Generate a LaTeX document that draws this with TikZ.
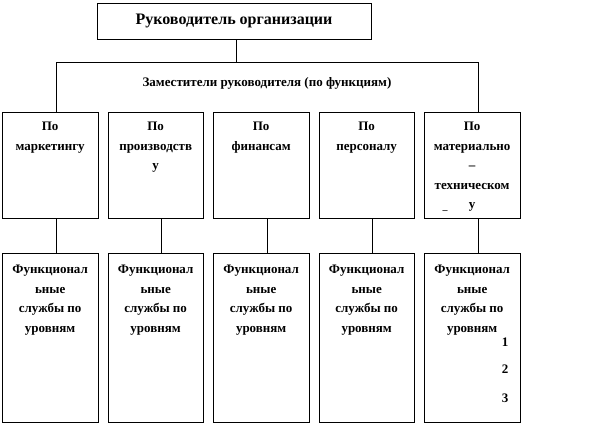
\documentclass[tikz,border=0pt]{standalone}
\usepackage{fontspec}
\setmainfont{Liberation Serif}
\begin{document}
\begin{tikzpicture}[x=1pt,y=-1pt,
  box/.style={draw,line width=0.8pt,inner sep=0pt,anchor=north west},
  lbl/.style={font=\bfseries\fontsize{13}{19.5}\selectfont,align=center,inner sep=0pt,anchor=north},
  num/.style={font=\bfseries\fontsize{13}{19.5}\selectfont,inner sep=0pt},
  ln/.style={line width=0.8pt}]
\useasboundingbox (0,0) rectangle (594,425);
\node[box,minimum width=274pt,minimum height=36pt] (top) at (97,3) {};
\node[font=\bfseries\fontsize{16}{20}\selectfont,inner sep=0pt] (toptxt) at (234,21) {Руководитель организации};
\coordinate (hm) at (236,62);
\node[font=\bfseries\fontsize{13}{15}\selectfont,inner sep=0pt] (dep) at (267,83) {Заместители руководителя (по функциям)};
\foreach \i/\lx/\t in {1/2/{По\\маркетингу},2/107.5/{По\\производств\\у},3/213/{По\\финансам},4/318.5/{По\\персоналу},5/424/{По\\материально\\–\\техническом\\у}}{
  \node[box,minimum width=95.5pt,minimum height=106pt] (a\i) at (\lx,112) {};
  \node[box,minimum width=95.5pt,minimum height=169pt] (b\i) at (\lx,253) {};
  \coordinate (c\i) at (\lx+54,62);
  \draw[ln] (c\i |- a\i.south) -- (c\i |- b\i.north);
  \node[lbl] (ta\i) at ([yshift=-10pt]a\i.north) {\t};
  \node[lbl] (tb\i) at ([yshift=-12pt]b\i.north) {Функционал\\ьные\\службы по\\уровням};
}
\draw[ln] (top.south -| hm) -- (hm);
\draw[ln] (c1 |- a1.north) -- (c1) -- (c5) -- (c5 |- a5.north);
\node[num] (n1) at (505,342) {1};
\node[num] (n2) at (505,369) {2};
\node[num] (n3) at (505,398) {3};
\node[font=\bfseries\fontsize{10}{10}\selectfont,inner sep=0pt] (dash) at (445,212) {–};
\end{tikzpicture}
\end{document}
